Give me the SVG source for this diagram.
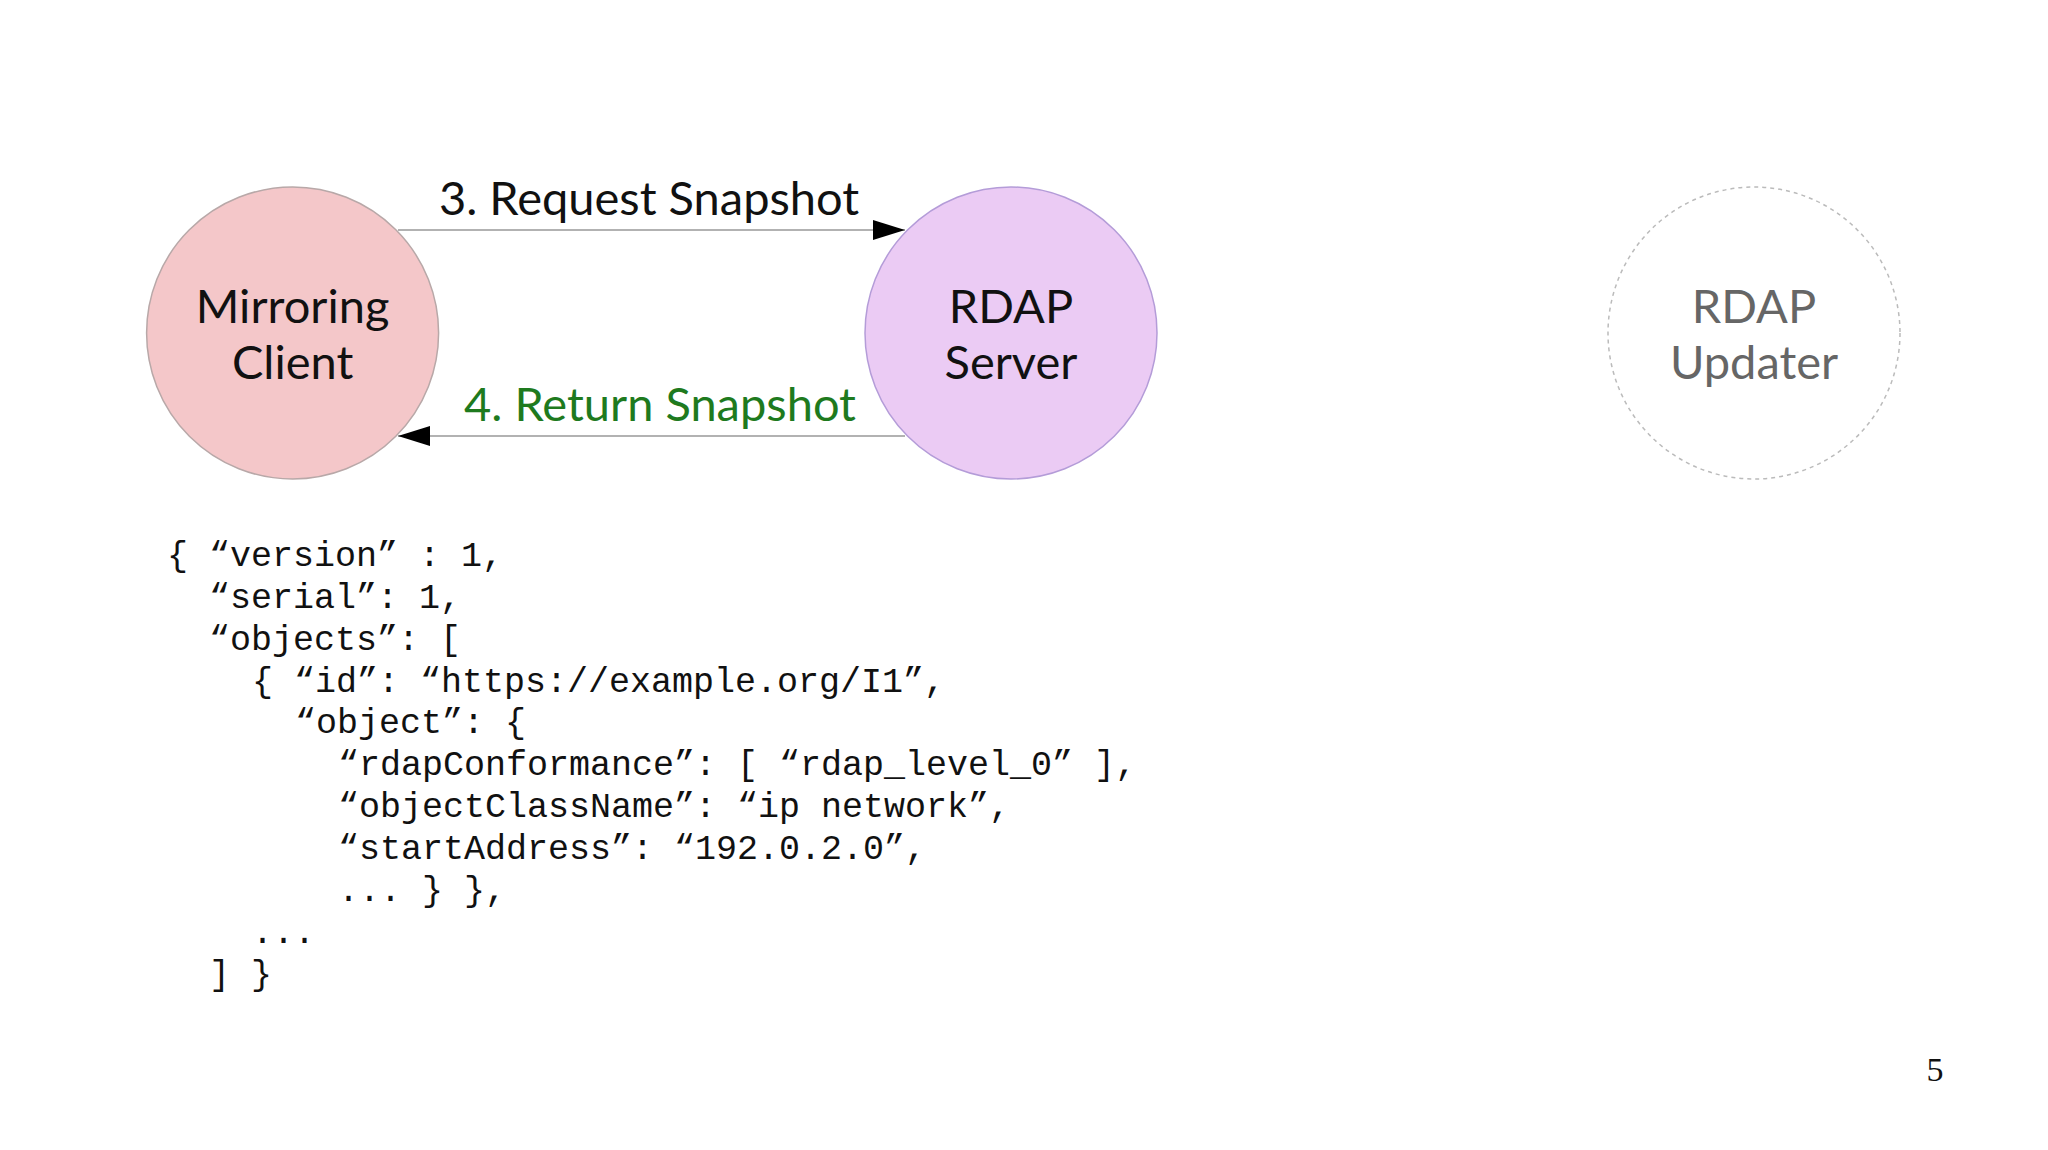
<svg xmlns="http://www.w3.org/2000/svg" width="2048" height="1150" viewBox="0 0 2048 1150">
<style>
.lbl{font-family:Lato,"Liberation Sans",sans-serif;font-size:47px;text-anchor:middle;fill:#111}
.code{font-family:"Liberation Mono","DejaVu Sans Mono",monospace;font-size:35px;fill:#111;white-space:pre}
.conn{stroke:#999;stroke-width:1.5;fill:none}
</style>
<defs>
<marker id="ah" markerWidth="12" markerHeight="10" refX="12" refY="5" orient="auto" markerUnits="userSpaceOnUse" viewBox="0 0 12 10"><path d="M0,0 L12,5 L0,10 z" fill="#000"/></marker>
<marker id="ah2" markerWidth="32" markerHeight="20" refX="32" refY="10" orient="auto" markerUnits="userSpaceOnUse"><path d="M0,0 L32,10 L0,20 z" fill="#000"/></marker>
</defs>
<rect width="2048" height="1150" fill="#fff"/>
<g id="client"><circle cx="292.6" cy="333" r="146" fill="#f4c7c9" stroke="#b8a8a8" stroke-width="1.5"/>
<text class="lbl" x="292.6" y="323">Mirroring</text><text class="lbl" x="292.6" y="379">Client</text></g>
<g id="server"><circle cx="1011" cy="333" r="146" fill="#ebcbf4" stroke="#b49cd8" stroke-width="1.5"/>
<text class="lbl" x="1011" y="323">RDAP</text><text class="lbl" x="1011" y="379">Server</text></g>
<g id="updater"><circle cx="1754" cy="333" r="146" fill="none" stroke="#bbb" stroke-width="1.5" stroke-dasharray="4,4"/>
<text class="lbl" x="1754" y="323" style="fill:#666">RDAP</text><text class="lbl" x="1754" y="379" style="fill:#666">Updater</text></g>
<g id="connectors">
<line class="conn" x1="398" y1="230" x2="905" y2="230" marker-end="url(#ah2)"/>
<text class="lbl" x="649" y="215">3. Request Snapshot</text>
<line class="conn" x1="905" y1="436" x2="398" y2="436" marker-end="url(#ah2)"/>
<text class="lbl" x="660" y="421" style="fill:#1e7a1e">4. Return Snapshot</text>
</g>
<g id="code">
<text class="code" x="167" y="566">{ “version” : 1,</text>
<text class="code" x="209" y="608">“serial”: 1,</text>
<text class="code" x="209" y="650">“objects”: [</text>
<text class="code" x="252" y="692">{ “id”: “https://example.org/I1”,</text>
<text class="code" x="295" y="733">“object”: {</text>
<text class="code" x="338" y="775">“rdapConformance”: [ “rdap_level_0” ],</text>
<text class="code" x="338" y="817">“objectClassName”: “ip network”,</text>
<text class="code" x="338" y="859">“startAddress”: “192.0.2.0”,</text>
<text class="code" x="338" y="901">... } },</text>
<text class="code" x="252" y="943">...</text>
<text class="code" x="209" y="985">] }</text>
</g>
<text x="1935" y="1081" style="font-family:'Liberation Serif',serif;font-size:34px;fill:#111;text-anchor:middle">5</text>
</svg>
